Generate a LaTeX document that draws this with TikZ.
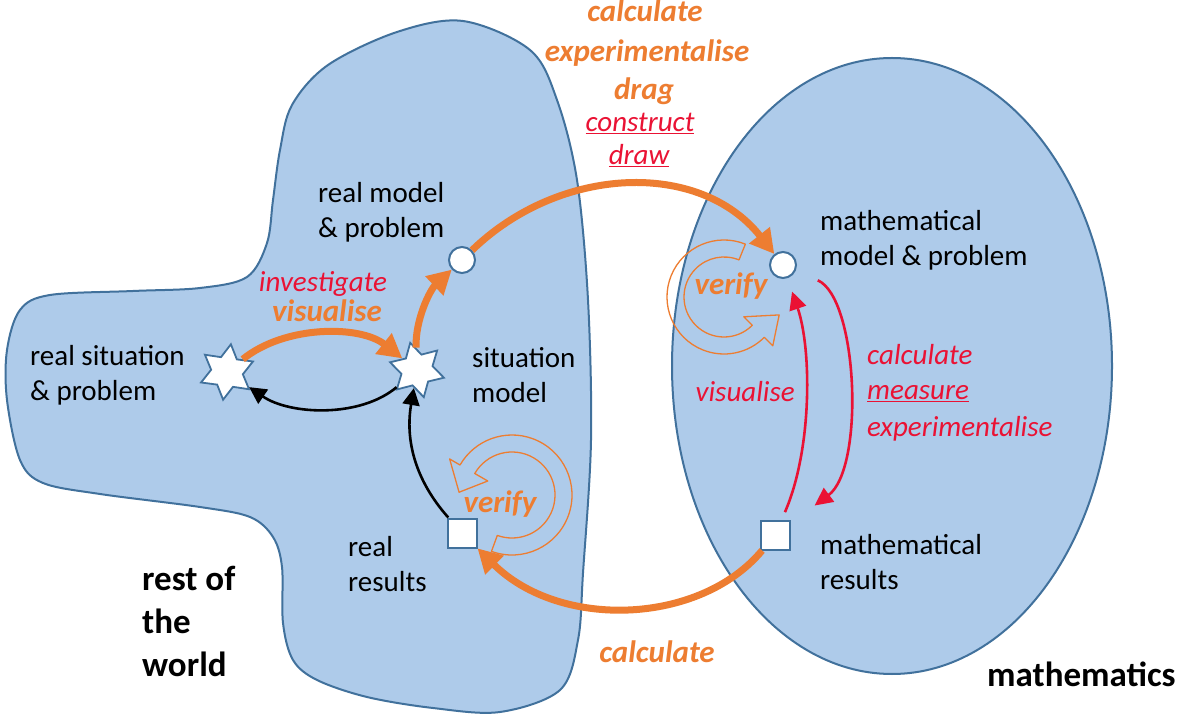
\documentclass[tikz,border=0pt]{standalone}
\usepackage{fontspec}
\setmainfont{Carlito}
\usetikzlibrary{arrows.meta,shapes.geometric}
\definecolor{blobfill}{RGB}{174,203,234}
\definecolor{blobline}{RGB}{65,113,156}
\definecolor{orng}{RGB}{237,125,49}
\definecolor{redc}{RGB}{234,18,52}
\begin{document}
\begin{tikzpicture}[x=1pt,y=1pt,
 blobarea/.style={fill=blobfill,draw=blobline,line width=2pt},
 starnode/.style={star,star points=6,star point ratio=1.75,minimum size=56pt,inner sep=0pt,fill=white,draw=blobline,line width=1.8pt},
 circnode/.style={circle,minimum size=26pt,inner sep=0pt,fill=white,draw=blobline,line width=2pt},
 sqnode/.style={rectangle,minimum size=29pt,inner sep=0pt,fill=white,draw=blobline,line width=2pt},
 lbl/.style={anchor=west,align=left,font=\fontsize{29}{35}\selectfont,text=black,inner sep=0pt},
 biglbl/.style={align=left,font=\fontsize{35}{43}\selectfont\bfseries,text=black,inner sep=0pt},
 olbl/.style={anchor=base,font=\fontsize{31}{38}\selectfont\bfseries\itshape,text=orng,inner sep=0pt},
 rlbl/.style={anchor=base,font=\fontsize{29}{35}\selectfont\itshape,text=redc,inner sep=0pt},
 oarr/.style={draw=orng,line width=7pt,-{Triangle[length=24pt,width=25pt]}},
 barr/.style={draw=black,line width=2.6pt,-{Triangle[length=17pt,width=17pt]}},
 rarr/.style={draw=redc,line width=2.6pt,-{Triangle[length=18pt,width=17pt]}},
 vloop/.style={draw=orng,line width=1.3pt,line join=round}
]
\path[use as bounding box,fill=white] (0,0) rectangle (1180,718);

% rest of the world region
\path[blobarea] plot[smooth cycle,tension=0.55] coordinates {
 (463,697) (530,668) (557,618) (577,538) (588,418) (591,278) (583,145)
 (578,78) (560,28) (500,6) (433,10) (367,21) (317,38) (293,58) (283,95)
 (282,151) (273,181) (250,201) (200,211) (100,224) (43,235) (20,258)
 (7,318) (7,368) (20,408) (50,423) (133,427) (200,430) (247,441)
 (267,475) (273,518) (280,568) (292,613) (328,653) (397,686)};

% mathematics region
\draw[blobarea] (892,352) ellipse[x radius=220pt,y radius=308pt];

% verify loops
\begin{scope}[shift={(512,223)}]
\draw[vloop] (-110:60pt) arc[start angle=-110,end angle=150,radius=60pt]
  -- (150:72pt) -- (177:53pt) -- (150:28pt) -- (150:43pt)
  arc[start angle=150,end angle=-110,radius=43pt] -- cycle;
\end{scope}
\begin{scope}[shift={(724,421)}]
\draw[vloop] (68:57pt) arc[start angle=68,end angle=315,radius=57pt]
  -- (315:69pt) -- (342:58pt) -- (315:28pt) -- (315:40pt)
  arc[start angle=315,end angle=68,radius=40pt] -- cycle;
\end{scope}

% nodes
\node[starnode,rotate=-8] (rs) at (227,346) {};
\node[starnode,rotate=14] (sm) at (417,348) {};
\node[circnode] (rmc) at (462,458) {};
\node[sqnode] (rr) at (462,185) {};
\node[circnode] (mmc) at (783,453) {};
\node[sqnode] (mr) at (775,183) {};

% connectors
\draw[oarr] (rs) .. controls (285,393) and (360,393) .. (sm);
\draw[barr] (sm) .. controls (360,300) and (290,303) .. (rs);
\draw[barr] (rr) .. controls (415,238) and (405,278) .. (sm);
\draw[oarr] (sm) .. controls (415,398) and (430,428) .. (rmc);
\draw[oarr] (rmc) .. controls (560,553) and (700,558) .. (mmc);
\draw[oarr] (mr) .. controls (700,93) and (560,88) .. (rr);
\draw[rarr,shorten <=8pt,shorten >=14pt] (mr) .. controls (812,268) and (812,368) .. (mmc);
\draw[rarr,shorten <=24pt,shorten >=30pt] (mmc) .. controls (858,420) and (865,250) .. (mr);

% labels
\node[lbl] (lrs) at (30,342.5) {real situation\\\& problem};
\node[lbl] (lsm) at (472,342.5) {situation\\model};
\node[lbl] (lrm) at (318,505.5) {real model\\\& problem};
\node[lbl] (lrr) at (348,153.5) {real\\results};
\node[lbl] (lmm) at (820,477.5) {mathematical\\model \& problem};
\node[lbl] (lmr) at (820,155.5) {mathematical\\results};
\node[biglbl,anchor=west] (lrw) at (142,97) {rest of\\the\\world};
\node[biglbl,anchor=base west] (lmath) at (987,32) {mathematics};

\node[olbl] (t1) at (645,696) {calculate};
\node[olbl] (t2) at (647,656) {experimentalise};
\node[olbl] (t3) at (644,618) {drag};
\node[rlbl] (t4) at (640,586) {\underline{construct}};
\node[rlbl] (t5) at (639,553) {\underline{draw}};

\node[rlbl] (inv) at (323,426) {investigate};
\node[olbl] (vis1) at (327,396) {visualise};
\node[rlbl,anchor=base west] (c2) at (867,353) {calculate};
\node[rlbl,anchor=base west] (m2) at (867,318) {\underline{measure}};
\node[rlbl,anchor=base west] (e2) at (867,281) {experimentalise};
\node[rlbl,anchor=base east] (vis2) at (795,316) {visualise};
\node[olbl] (ver1) at (500,206) {verify};
\node[olbl] (ver2) at (731,423) {verify};
\node[olbl] (c3) at (657,56) {calculate};
\end{tikzpicture}
\end{document}
